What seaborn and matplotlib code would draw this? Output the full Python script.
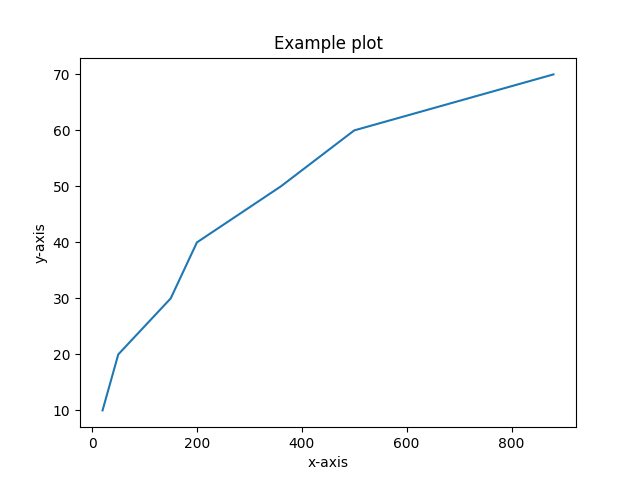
import matplotlib
matplotlib.use("Agg")
import matplotlib.pyplot as plt
import seaborn as sns
import pandas as pd

x_values = [20, 50, 150, 200, 360, 500, 880]
y_values = [10, 20, 30, 40, 50, 60, 70]

df = pd.DataFrame({"x": x_values, "y": y_values})

fig, ax = plt.subplots(figsize=(6.4, 4.8), dpi=100)
sns.lineplot(data=df, x="x", y="y", ax=ax, color="#1f77b4")
ax.set_title("Example plot")
ax.set_xlabel("x-axis")
ax.set_ylabel("y-axis")
fig.savefig("out.png", dpi=100)
